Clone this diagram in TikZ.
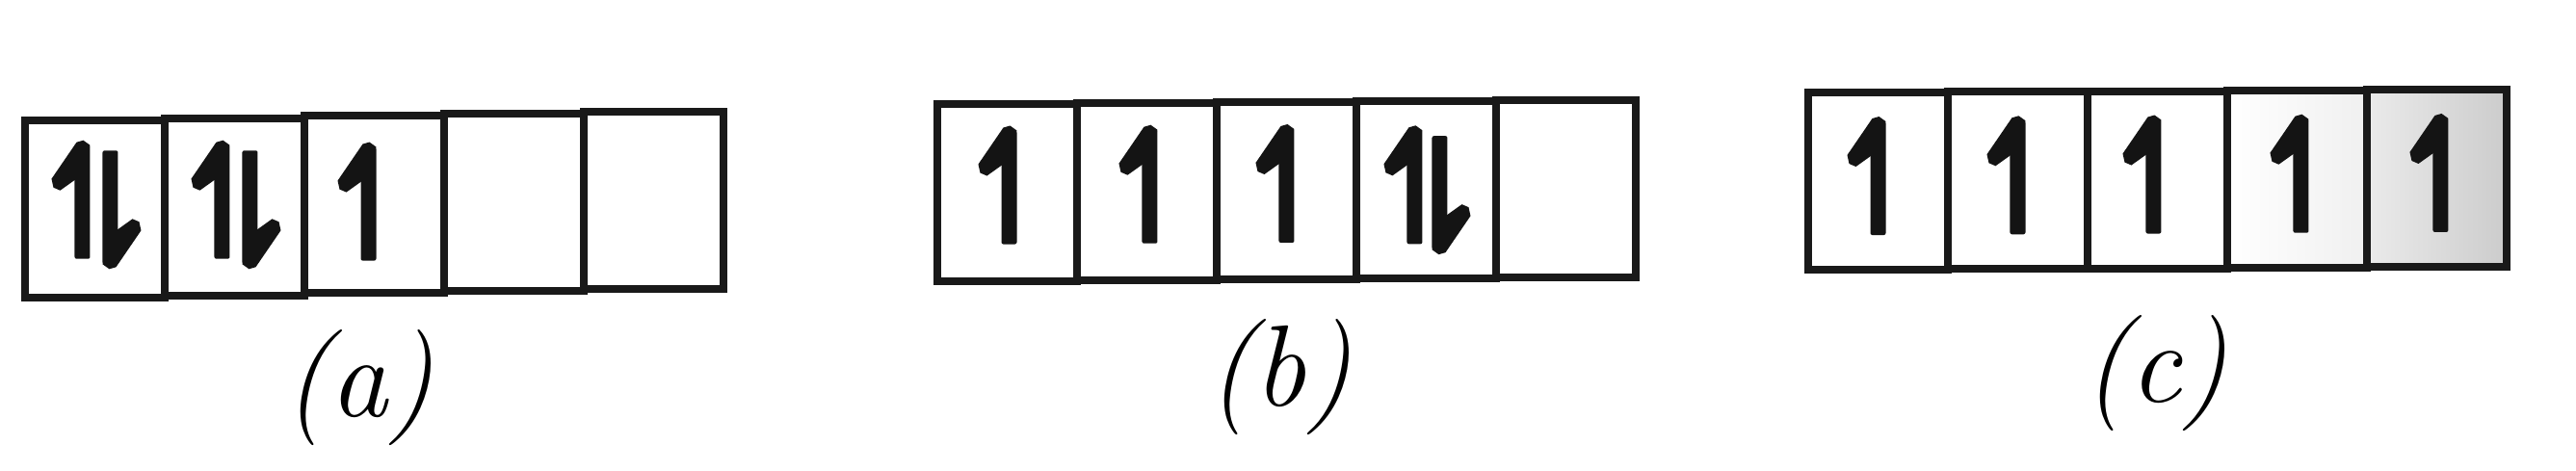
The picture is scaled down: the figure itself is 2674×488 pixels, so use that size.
\documentclass[tikz,border=0pt]{standalone}
\usepackage{fontspec}
\tikzset{
  cell/.style={draw=black!90, line width=8pt, minimum width=145pt, minimum height=184pt,
    inner sep=0pt, outer sep=0pt, anchor=center},
  lbl/.style={font=\fontsize{120}{120}\selectfont\itshape, inner sep=0pt, anchor=center},
  pics/upspin/.style={code={
    \fill[black!92, rounded corners=2pt] (-8,-62) rectangle (8,56);
    \fill[black!92] (8,-62) -- (1,-67) -- (-6,-65) -- (-32,-27) -- (-30,-18) -- (-23,-15) -- (-2,-30) -- cycle;
  }},
  pics/downspin/.style={code={
    \fill[black!92, rounded corners=2pt] (-8,-56) rectangle (8,62);
    \fill[black!92] (-8,62) -- (-1,67) -- (6,65) -- (32,27) -- (30,18) -- (23,15) -- (2,30) -- cycle;
  }}
}
\begin{document}
\begin{tikzpicture}[x=1pt,y=-1pt]
\useasboundingbox[fill=white] (0,0) rectangle (2674,488);
% ---------- (a)
\begin{scope}[rotate around={0.8:(388,212)}]
\node[cell] (a1) at (98.5,212.5) {};
\node[cell] (a2) at (243.5,212.5) {};
\node[cell] (a3) at (388.5,212.5) {};
\node[cell] (a4) at (533.5,212.5) {};
\node[cell] (a5) at (678.5,212.5) {};
\pic at ([xshift=-13pt,yshift=4pt]a1.center) {upspin};
\pic at ([xshift=16pt,yshift=4pt]a1.center) {downspin};
\pic at ([xshift=-13pt,yshift=2pt]a2.center) {upspin};
\pic at ([xshift=16pt,yshift=2pt]a2.center) {downspin};
\pic at ([xshift=-6pt,yshift=-2pt]a3.center) {upspin};
\end{scope}
\node[lbl] (la) at (372,403) {(a)};
% ---------- (b)
\begin{scope}[rotate around={0.3:(1335,198)}]
\node[cell] (b1) at (1045.5,198) {};
\node[cell] (b2) at (1190.5,198) {};
\node[cell] (b3) at (1335.5,198) {};
\node[cell] (b4) at (1480.5,198) {};
\node[cell] (b5) at (1625.5,198) {};
\pic at ([xshift=2pt,yshift=2pt]b1.center) {upspin};
\pic at ([xshift=3pt,yshift=2pt]b2.center) {upspin};
\pic at ([xshift=0pt,yshift=2pt]b3.center) {upspin};
\pic at ([xshift=-12pt,yshift=0pt]b4.center) {upspin};
\pic at ([xshift=14pt,yshift=0pt]b4.center) {downspin};
\end{scope}
\node[lbl] (lb) at (1328,392) {(b)};
% ---------- (c)
\begin{scope}[rotate around={0.3:(2239,186)}]
\node[cell, left color=white, right color=black!6] (c4) at (2384.5,186.5) {};
\node[cell, left color=black!8, right color=black!20] (c5) at (2529.5,186.5) {};
\node[cell] (c1) at (1949.5,186.5) {};
\node[cell] (c2) at (2094.5,186.5) {};
\node[cell] (c3) at (2239.5,186.5) {};
\node[cell] (c4b) at (2384.5,186.5) {};
\node[cell] (c5b) at (2529.5,186.5) {};
\pic at ([xshift=0pt,yshift=0pt]c1.center) {upspin};
\pic at ([xshift=0pt,yshift=0pt]c2.center) {upspin};
\pic at ([xshift=-4pt,yshift=0pt]c3.center) {upspin};
\pic at ([xshift=4pt,yshift=0pt]c4.center) {upspin};
\pic at ([xshift=4pt,yshift=0pt]c5.center) {upspin};
\end{scope}
\node[lbl] (lc) at (2237,388) {(c)};
\end{tikzpicture}
\end{document}
